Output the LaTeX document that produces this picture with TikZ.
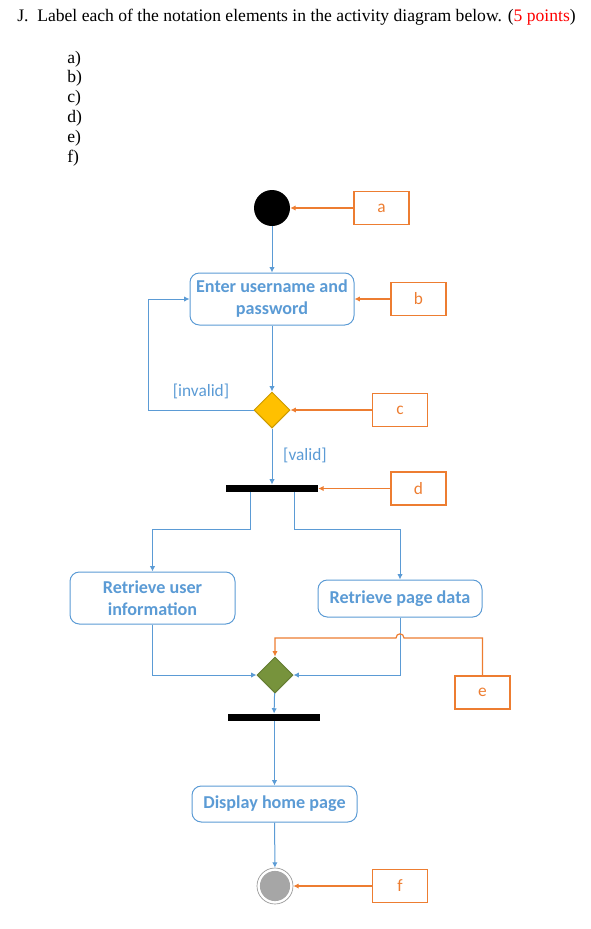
\documentclass[tikz,border=0pt]{standalone}
\usepackage{fontspec}
\setmainfont{Liberation Serif}
\newfontfamily\carlitofont{Carlito}
\usetikzlibrary{arrows.meta,shapes.geometric}
\definecolor{lblue}{HTML}{5B9BD5}
\definecolor{tblue}{HTML}{5B9BD5}
\definecolor{orng}{HTML}{ED7D31}
\definecolor{yel}{HTML}{FFC000}
\definecolor{grn}{HTML}{77933C}
\definecolor{fgray}{HTML}{A6A6A6}
\tikzset{
  act/.style={draw=lblue, line width=0.75pt, rounded corners=7pt, fill=white, inner sep=0pt,
    align=center, text=tblue, font=\carlitofont\bfseries\fontsize{13.6}{16.5}\selectfont},
  lbl/.style={draw=orng, line width=0.9pt, minimum width=41.25pt, minimum height=24.75pt, inner sep=0pt,
    text=orng, font=\carlitofont\fontsize{13}{15}\selectfont},
  flow/.style={draw=lblue, line width=0.75pt, -{Latex[length=4pt,width=4pt]}},
  ann/.style={draw=orng, line width=0.9pt, -{Latex[length=4pt,width=4pt]}},
  guard/.style={text=tblue, font=\carlitofont\fontsize{13}{15}\selectfont, inner sep=0pt},
  bar/.style={fill=black, draw=none, minimum width=69pt, minimum height=5.5pt, inner sep=0pt},
  dec/.style={diamond, aspect=1, minimum width=27pt, minimum height=27pt, inner sep=0pt, line width=0.75pt},
  qtext/.style={inner sep=0pt, anchor=west, font=\fontsize{13.2}{15}\selectfont},
}
\begin{document}
\begin{tikzpicture}[x=0.75pt,y=-0.75pt]
\useasboundingbox (0,0) rectangle (590,929);
% question text
\node[qtext] (title) at (17,17.5) {J.\ \ Label each of the notation elements in the activity diagram below. ({\color{red}5 points})};
\node[qtext] (qa) at (67,59) {a)};
\node[qtext] (qb) at (67,78.5) {b)};
\node[qtext] (qc) at (67,98) {c)};
\node[qtext] (qd) at (67,118) {d)};
\node[qtext] (qe) at (67,138) {e)};
\node[qtext] (qf) at (67,158) {f)};

% diagram nodes
\node[circle, fill=black, minimum size=27pt, inner sep=0pt] (start) at (272,208) {};
\node[act, minimum width=123pt, minimum height=39pt] (enter) at (272,299) {Enter username and\\password};
\node[dec, fill=yel, draw=yel!80!black] (dc) at (272,410) {};
\node[bar] (fork) at (272,488.5) {};
\node[act, minimum width=123.75pt, minimum height=39pt] (ru) at (152.5,598) {Retrieve user\\information};
\node[act, minimum width=123pt, minimum height=27.75pt] (rp) at (400,598.5) {Retrieve page data};
\node[dec, fill=grn, draw=grn!85!black] (dm) at (275,675) {};
\node[bar] (join) at (274,717.5) {};
\node[act, minimum width=123.75pt, minimum height=27pt] (disp) at (274.5,804) {Display home page};
\node[circle, draw=fgray!90!black, line width=0.5pt, minimum size=27pt, inner sep=0pt,
  path picture={\fill[fgray] (path picture bounding box.center) circle (11.3pt);}] (fin) at (275,886) {};

% guards
\node[guard] (ginv) at (201,391) {[invalid]};
\node[guard] (gval) at (305,455) {[valid]};

% annotation boxes
\node[lbl] (la) at (381.5,208) {a};
\node[lbl] (lb) at (418.5,299) {b};
\node[lbl] (lc) at (400,410) {c};
\node[lbl] (ld) at (418.5,488.5) {d};
\node[lbl] (le) at (482.5,692.5) {e};
\node[lbl] (lf) at (400,886) {f};

% flows
\draw[flow] (start) -- (enter);
\draw[flow] (enter) -- (dc);
\draw[flow] (dc.west) -- (148,410) |- (enter.west);
\draw[flow] (dc) -- (fork);
\draw[flow] (fork.south) ++(-22,0) -- ++(0,37) -| (ru.north);
\draw[flow] (fork.south) ++(22,0) -- ++(0,37) -| (rp.north);
\draw[flow] (ru.south) |- (dm.west);
\draw[flow] (rp.south) |- (dm.east);
\draw[flow] (dm) -- (join);
\draw[flow] (join.south -| disp.north) -- (disp.north);
\draw[flow] (disp) -- (fin);

% annotation arrows
\draw[ann] (la) -- (start);
\draw[ann] (lb) -- (enter);
\draw[ann] (lc) -- (dc);
\draw[ann] (ld) -- (fork);
\draw[ann] (lf) -- (fin);
\draw[ann] (le.north) |- (404,638) .. controls (404,632.5) and (396,632.5) .. (396,638) -| (dm.north);
\end{tikzpicture}
\end{document}
